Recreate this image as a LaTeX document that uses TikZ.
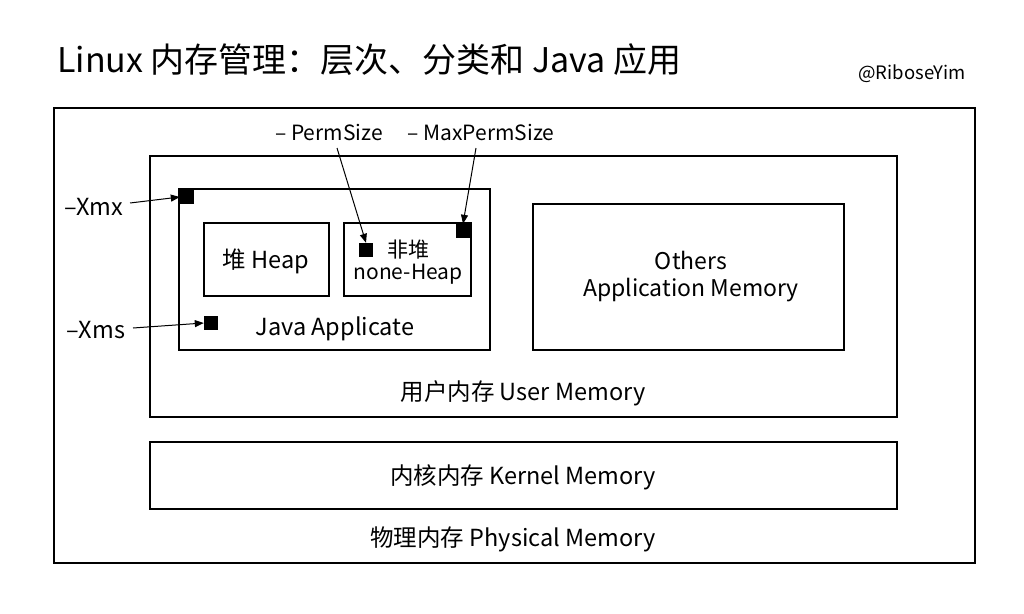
\documentclass[tikz,border=0pt]{standalone}
\usepackage{fontspec}
\setmainfont{Noto Sans CJK SC}
\usetikzlibrary{arrows.meta}
\begin{document}
\begin{tikzpicture}[x=1pt,y=-1pt,
 box/.style={draw,line width=1.2pt},
 sq/.style={fill=black,minimum size=14pt,inner sep=0pt},
 lab/.style={font=\fontsize{23.5}{28}\selectfont,align=center,inner sep=0pt},
 arr/.style={-{Triangle[length=9pt,width=7pt]},line width=1pt}]
\useasboundingbox (0,0) rectangle (1024,613);
\node[anchor=west,inner sep=0pt,font=\fontsize{34}{40}\selectfont] (title) at (57,60) {Linux 内存管理：层次、分类和 Java 应用};
\node[anchor=east,inner sep=0pt,font=\fontsize{18.5}{22}\selectfont] (sig) at (966,74) {@RiboseYim};
\draw[box] (54,108) rectangle (975,563);
\draw[box] (150,156) rectangle (897,417);
\draw[box] (150,442) rectangle (897,509);
\draw[box] (179,189) rectangle (490,350);
\draw[box] (204,223) rectangle (329,296);
\draw[box] (344,223) rectangle (471,296);
\draw[box] (533,204) rectangle (844,350);
\node[lab] (phys) at (513,539) {物理内存 Physical Memory};
\node[lab] (kern) at (523,477) {内核内存 Kernel Memory};
\node[lab] (user) at (523,393) {用户内存 User Memory};
\node[lab] (java) at (335,329) {Java Applicate};
\node[lab] (heap) at (266,261) {堆 Heap};
\node[lab,font=\fontsize{21}{24}\selectfont] (nh1) at (408,250) {非堆};
\node[lab,font=\fontsize{21}{24}\selectfont] (nh2) at (408,274) {none-Heap};
\node[lab,font=\fontsize{23}{27}\selectfont] (oth) at (691,277) {Others\\Application Memory};
\node[sq] (sxmx) at (187,197) {};
\node[sq] (sxms) at (211,323) {};
\node[sq] (sperm) at (366,250) {};
\node[sq] (smax) at (463,231) {};
\node[lab] (xmx) at (94,207) {–Xmx};
\node[lab] (xms) at (96,330) {–Xms};
\node[lab,font=\fontsize{21}{24}\selectfont] (perm) at (329,132) {– PermSize};
\node[lab,font=\fontsize{21}{24}\selectfont] (max) at (481,132) {– MaxPermSize};
\draw[arr] (130,203) -- (sxmx.west);
\draw[arr] (133,328) -- (sxms.west);
\draw[arr] (337,148) -- (sperm.north);
\draw[arr] (476,148) -- (smax.north);
\end{tikzpicture}
\end{document}
